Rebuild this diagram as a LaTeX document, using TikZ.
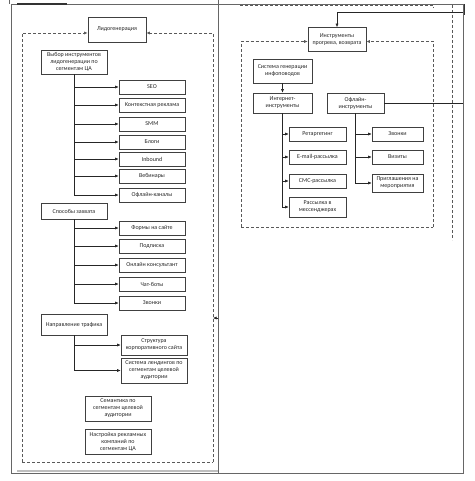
\documentclass[tikz,border=0pt]{standalone}
\usepackage{fontspec}
\setmainfont{Carlito}
\usetikzlibrary{arrows.meta}
\begin{document}
\begin{tikzpicture}[x=1pt,y=-1pt,
  bx/.style={draw=black!75, line width=0.6pt, font=\fontsize{6}{7}\selectfont, align=center, inner sep=0.5pt, text=black!85},
  cw/.style={bx, minimum width=66pt},
  tip/.style={-{Latex[length=3.6pt,width=3.2pt]}},
  cn/.style={line width=0.65pt, draw=black!85, tip},
  ln/.style={line width=0.65pt, draw=black!85},
  dsh/.style={line width=0.75pt, draw=black!65, dash pattern=on 3pt off 2pt},
  frame/.style={line width=0.6pt, draw=black!60}]
\useasboundingbox (0,0) rectangle (474,481);
% page frames
\draw[frame] (11,4) -- (463,4);
\draw[frame] (11,4) -- (11,473) -- (463,473);
\draw[frame] (218,0) -- (218,473);
\draw[line width=1.6pt, black!80] (17,4) -- (67,4);
\draw[line width=1.6pt, black!25] (17,471) -- (218,471);
\draw[frame] (9,0) -- (9,4);
% ---------------- left part
\node[bx, minimum width=58pt, minimum height=25pt] (lid) at (117,29.5) {Лидогенерация};
\coordinate (dl1) at (22,462); \coordinate (dl2) at (22,33);
\coordinate (dr1) at (213,462); \coordinate (dr2) at (213,33);
\draw[dsh] (dl1) -- (dr1);
\draw[dsh,tip] (dl1) -- (dl2) -- (dl2 -| lid.west);
\draw[dsh,tip] (dr1) -- (dr2) -- (dr2 -| lid.east);

\node[cw, minimum height=24pt] (vyb) at (74,62) {Выбор инструментов\\лидогенерации по\\сегментам ЦА};
\node[cw, minimum height=14pt] (seo) at (152,87) {SEO};
\node[cw, minimum height=14pt] (kon) at (152,105) {Контекстная реклама};
\node[cw, minimum height=14pt] (smm) at (152,124) {SMM};
\node[cw, minimum height=14pt] (blo) at (152,142) {Блоги};
\node[cw, minimum height=14pt] (inb) at (152,159) {Inbound};
\node[cw, minimum height=14pt] (veb) at (152,176) {Вебинары};
\node[cw, minimum height=14pt] (ofk) at (152,195) {Офлайн-каналы};
\foreach \n in {seo,kon,smm,blo,inb,veb,ofk} \draw[cn] (vyb.south) |- (\n.west);

\node[cw, minimum height=16pt] (spo) at (74,211) {Способы захвата};
\node[cw, minimum height=14pt] (for) at (152,228) {Формы на сайте};
\node[cw, minimum height=14pt] (pod) at (152,246) {Подписка};
\node[cw, minimum height=14pt] (onl) at (152,265) {Онлайн консультант};
\node[cw, minimum height=14pt] (cha) at (152,284) {Чат-боты};
\node[cw, minimum height=14pt] (zv1) at (152,303) {Звонки};
\foreach \n in {for,pod,onl,cha,zv1} \draw[cn] (spo.south) |- (\n.west);

\node[cw, minimum height=21pt] (nap) at (74,324.5) {Направление трафика};
\node[cw, minimum height=20pt] (str) at (154,345) {Структура\\корпоративного сайта};
\node[cw, minimum height=25pt] (len) at (154,370.5) {Система лендингов по\\сегментам целевой\\аудитории};
\foreach \n in {str,len} \draw[cn] (nap.south) |- (\n.west);

\node[cw, minimum height=25pt] (sem) at (118,408.5) {Семантика по\\сегментам целевой\\аудитории};
\node[cw, minimum height=25pt] (nas) at (118,441.5) {Настройка рекламных\\компаний по\\сегментам ЦА};

\coordinate (pin1) at (218,318); \coordinate (pin2) at (213,318);
\draw[cn] (pin1) -- (pin2);
% ---------------- right part
\draw[dsh] (240,5) -- (433,5) -- (433,8);
\draw[dsh] (452,5) -- (452,240);

\node[bx, minimum width=58pt, minimum height=24pt] (ins) at (337,39.5) {Инструменты\\прогрева, возврата};
\coordinate (tr0) at (463,12);
\draw[line width=1.6pt, black!80] (464,4) -- (464,15);
\draw[cn] (tr0) -| (ins.north);
\draw[frame] (463,4) -- (463,474);

\coordinate (el1) at (241,227); \coordinate (el2) at (241,41.5);
\coordinate (er1) at (433,227); \coordinate (er2) at (433,41.5);
\draw[dsh] (el1) -- (er1);
\draw[dsh,tip] (el1) -- (el2) -- (el2 -| ins.west);
\draw[dsh,tip] (er1) -- (er2) -- (er2 -| ins.east);

\node[bx, minimum width=59pt, minimum height=24pt] (sys) at (282.5,71) {Система генерации\\инфоповодов};
\node[bx, minimum width=59pt, minimum height=20pt] (int) at (282.5,103) {Интернет-\\инструменты};
\node[bx, minimum width=57pt, minimum height=20pt] (off) at (355.5,103) {Офлайн-\\инструменты};
\draw[cn] (sys.south) -- (int.north);
\coordinate (ofr) at (463,103);
\draw[ln] (off.east) -- (ofr);

\node[bx, minimum width=57pt, minimum height=14pt] (ret) at (317.5,134) {Ретаргетинг};
\node[bx, minimum width=57pt, minimum height=14pt] (ema) at (317.5,157) {E-mail-рассылка};
\node[bx, minimum width=57pt, minimum height=14pt] (sms) at (317.5,181) {СМС-рассылка};
\node[bx, minimum width=57pt, minimum height=20pt] (mes) at (317.5,207) {Рассылка в\\мессенджерах};
\foreach \n in {ret,ema,sms,mes} \draw[cn] (int.south) |- (\n.west);

\node[bx, minimum width=51pt, minimum height=14pt] (zv2) at (397.5,134) {Звонки};
\node[bx, minimum width=51pt, minimum height=14pt] (viz) at (397.5,157) {Визиты};
\node[bx, minimum width=51pt, minimum height=18pt] (pri) at (397.5,183) {Приглашения на\\мероприятия};
\foreach \n in {zv2,viz,pri} \draw[cn] (off.south) |- (\n.west);
\end{tikzpicture}
\end{document}
